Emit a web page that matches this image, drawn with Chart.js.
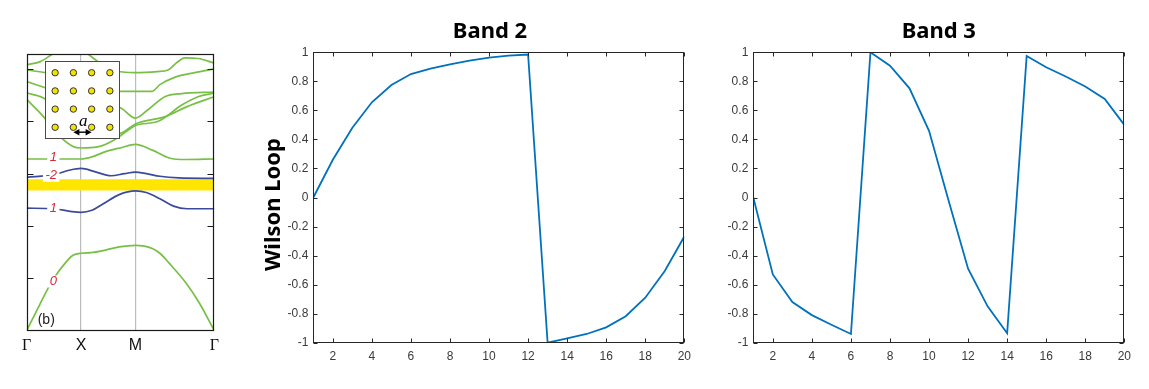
<!DOCTYPE html>
<html>
<head>
<meta charset="utf-8">
<script src="https://cdn.jsdelivr.net/npm/chart.js@4.4.0/dist/chart.umd.min.js"></script>
<style>
  html, body { margin: 0; padding: 0; background: #fff; }
  body { width: 1149px; height: 389px; position: relative; overflow: hidden; }
  .box { position: absolute; top: 0; height: 389px; }
  #bandBox { left: 0; width: 240px; }
  #wilson2Box { left: 250px; width: 480px; }
  #wilson3Box { left: 700px; width: 449px; }
  #insetBox { position: absolute; left: 45px; top: 61px; width: 75px; height: 78px;
              background: #fff; border: 1px solid #4a4a4a; box-sizing: border-box; }
</style>
</head>
<body>
<div class="box" id="bandBox"><canvas id="bandChart"></canvas></div>
<div id="insetBox"><canvas id="insetChart"></canvas></div>
<div class="box" id="wilson2Box"><canvas id="wilson2Chart"></canvas></div>
<div class="box" id="wilson3Box"><canvas id="wilson3Chart"></canvas></div>
<script>
// ---------- Wilson loop panels ----------
const kIndex = [1, 2, 3, 4, 5, 6, 7, 8, 9, 10, 11, 12, 13, 14, 15, 16, 17, 18, 19, 20];
const wilsonBand2 = [0, 0.26, 0.48, 0.656, 0.775, 0.85, 0.888, 0.917, 0.943, 0.963,
                     0.977, 0.985, -1, -0.97, -0.94, -0.894, -0.818, -0.69, -0.506, -0.269];
const wilsonBand3 = [0, -0.53, -0.72, -0.81, -0.876, -0.94, 1, 0.908, 0.752, 0.459,
                     -0.02, -0.49, -0.75, -0.935, 0.975, 0.897, 0.833, 0.764, 0.679, 0.5];
const wilsonXTicks = [2, 4, 6, 8, 10, 12, 14, 16, 18, 20];
const wilsonYTicks = [-1, -0.8, -0.6, -0.4, -0.2, 0, 0.2, 0.4, 0.6, 0.8, 1];

// ---------- band structure panel ----------
const kTicks = [0, 1, 2, 3.45];
const kLabels = ['Γ', 'X', 'M', 'Γ'];
const freqTicks = [1, 2, 3, 4, 5];
const bandGap = [2.68, 2.895];

const band0 = [[0, 0], [0.24, 0.5], [0.48, 0.97], [0.73, 1.32], [0.85, 1.44], [1, 1.48], [1.18, 1.49],
               [1.45, 1.54], [1.7, 1.6], [2, 1.63], [2.31, 1.57], [2.46, 1.47], [2.62, 1.29],
               [2.93, 0.91], [3.18, 0.52], [3.45, 0]];
const band1 = [[0, 2.34], [0.5, 2.33], [0.8, 2.28], [1, 2.26], [1.2, 2.3], [1.4, 2.42], [1.7, 2.6],
               [2, 2.67], [2.2, 2.64], [2.45, 2.52], [2.7, 2.38], [2.95, 2.33], [3.45, 2.33]];
const band2 = [[0, 2.93], [0.5, 2.98], [0.8, 3.07], [1, 3.1], [1.25, 3.04], [1.55, 2.96], [1.8, 3.0],
               [2, 3.03], [2.2, 3.0], [2.45, 2.95], [2.8, 2.92], [3.45, 2.91]];
const band3 = [[0, 3.28], [0.5, 3.28], [1, 3.28], [1.2, 3.32], [1.45, 3.42], [1.75, 3.5], [2, 3.56],
               [2.31, 3.45], [2.62, 3.3], [2.93, 3.27], [3.45, 3.28]];
const band4 = [[0, 4.42], [0.3, 4.1], [0.6, 3.72], [0.85, 3.52], [1, 3.49], [1.3, 3.51], [1.6, 3.64],
               [1.85, 3.82], [2, 3.92], [2.42, 4.0], [2.85, 4.31], [3.15, 4.47], [3.45, 4.54]];
const band5 = [[0, 4.54], [0.3, 4.45], [0.6, 4.22], [0.9, 3.98], [1.2, 3.82], [1.5, 3.72], [1.75, 3.78],
               [2, 3.95], [2.55, 4.09], [2.95, 4.28], [3.45, 4.47]];
const band6 = [[0, 4.76], [0.4, 4.62], [0.8, 4.47], [1.2, 4.38], [1.5, 4.33], [1.74, 4.25], [2, 4.06],
               [2.23, 4.22], [2.54, 4.47], [2.85, 4.53], [3.45, 4.56]];
const band7 = [[0, 4.98], [0.5, 4.9], [1, 4.75], [1.5, 4.62], [1.74, 4.57], [2, 4.57], [2.3, 4.57],
               [2.45, 4.7], [2.72, 4.84], [3.09, 4.93], [3.45, 5.0]];
const band8 = [[0, 5.08], [0.25, 5.14], [0.5, 5.3], [0.8, 5.45], [1.1, 5.3], [1.3, 5.15], [1.6, 4.97],
               [2, 4.93], [2.4, 4.95], [2.6, 4.98], [2.76, 5.12], [2.91, 5.21], [3.15, 5.2], [3.45, 5.11]];
const bands = [band0, band1, band2, band3, band4, band5, band6, band7, band8];

// Chern numbers written next to the lowest bands
const chernText = ['0', '1', '-2', '1'];
const chernK = [0.49, 0.49, 0.45, 0.49];
const chernF = [0.94, 2.33, 2.96, 3.31];

// inset lattice
const latticeCols = [1, 2, 3, 4];
const latticeRows = [1, 2, 3, 4];

// ---------- styles ----------
const GREEN = '#78bf46';
const BLUE = '#3b4a9a';
const bandStroke = [GREEN, BLUE, BLUE, GREEN, GREEN, GREEN, GREEN, GREEN, GREEN];
const MATLAB_BLUE = '#0072BD';
const AXIS_GREY = '#3a3a3a';
const TITLE_FONT = { family: '"Noto Sans", sans-serif', weight: 'bold', size: 22 };

Chart.defaults.font.family = '"Liberation Sans", Arial, sans-serif';

// box around the plot area plus inward tick marks
const framePlugin = {
    id: 'frame',
    afterDatasetsDraw(chart, args, o) {
        const { ctx, chartArea: a } = chart;
        const L = Math.round(a.left) + 0.5, R = Math.round(a.right) - 0.5;
        const T = Math.round(a.top) + 0.5, B = Math.round(a.bottom) - 0.5;
        const len = o.tickLen;
        ctx.save();
        ctx.strokeStyle = o.color;
        ctx.lineWidth = o.width;
        ctx.strokeRect(L, T, R - L, B - T);
        ctx.beginPath();
        if (o.xTicks) {
            const xs = chart.scales.x;
            xs.ticks.forEach(t => {
                const p = Math.round(xs.getPixelForValue(t.value)) + 0.5;
                ctx.moveTo(p, B); ctx.lineTo(p, B - len);
                ctx.moveTo(p, T); ctx.lineTo(p, T + len);
            });
        }
        if (o.yTicks) {
            const ys = chart.scales.y;
            ys.ticks.forEach(t => {
                const p = Math.round(ys.getPixelForValue(t.value)) + 0.5;
                ctx.moveTo(L, p); ctx.lineTo(L + len, p);
                ctx.moveTo(R, p); ctx.lineTo(R - len, p);
            });
        }
        ctx.stroke();
        ctx.restore();
    }
};

// rotated y label, placed a little below the axis middle like the original
const yLabelPlugin = {
    id: 'yLabel',
    afterDraw(chart, args, o) {
        if (!o.text) return;
        const { ctx, chartArea: a } = chart;
        ctx.save();
        ctx.translate(a.left - o.offsetX, (a.top + a.bottom) / 2 + o.offsetY);
        ctx.rotate(-Math.PI / 2);
        ctx.font = `bold ${TITLE_FONT.size}px ${TITLE_FONT.family}`;
        ctx.fillStyle = '#000';
        ctx.textAlign = 'center';
        ctx.textBaseline = 'middle';
        ctx.fillText(o.text, 0, 0);
        ctx.restore();
    }
};

// red Chern labels and the panel tag
const bandNotes = {
    id: 'bandNotes',
    afterDatasetsDraw(chart) {
        const { ctx, chartArea: a, scales: { x, y } } = chart;
        ctx.save();
        ctx.font = 'italic 13px "Liberation Sans"';
        ctx.textAlign = 'center';
        ctx.textBaseline = 'middle';
        chernText.forEach((t, i) => {
            const px = x.getPixelForValue(chernK[i]);
            const py = y.getPixelForValue(chernF[i]);
            const w = ctx.measureText(t).width + 5;
            ctx.fillStyle = '#fff';
            ctx.fillRect(px - w / 2, py - 6, w, 12);
            ctx.fillStyle = '#d42a3c';
            ctx.fillText(t, px, py);
        });
        ctx.font = '14px "Liberation Sans"';
        ctx.fillStyle = '#222';
        ctx.textAlign = 'left';
        ctx.fillText('(b)', a.left + 11, a.bottom - 11);
        ctx.restore();
    }
};

// arrow and "a" in the lattice inset
const insetNotes = {
    id: 'insetNotes',
    afterDatasetsDraw(chart) {
        const { ctx, scales: { x, y } } = chart;
        const x1 = x.getPixelForValue(latticeCols[1]);
        const x2 = x.getPixelForValue(latticeCols[2]);
        const py = y.getPixelForValue(0.73);
        ctx.save();
        ctx.strokeStyle = '#000';
        ctx.fillStyle = '#000';
        ctx.lineWidth = 1.4;
        ctx.beginPath();
        ctx.moveTo(x1 + 4, py); ctx.lineTo(x2 - 4, py);
        ctx.stroke();
        ctx.beginPath();
        ctx.moveTo(x1, py); ctx.lineTo(x1 + 6, py - 3.2); ctx.lineTo(x1 + 6, py + 3.2); ctx.closePath();
        ctx.moveTo(x2, py); ctx.lineTo(x2 - 6, py - 3.2); ctx.lineTo(x2 - 6, py + 3.2); ctx.closePath();
        ctx.fill();
        ctx.font = 'italic 17px "Liberation Serif"';
        ctx.textAlign = 'center';
        ctx.textBaseline = 'middle';
        ctx.fillText('a', x.getPixelForValue(2.54), y.getPixelForValue(1.31));
        ctx.restore();
    }
};

// ----- band structure -----
const bandDatasets = bands.map((b, i) => ({
    data: b.map(([k, f]) => ({ x: k, y: f })),
    borderColor: bandStroke[i],
    borderWidth: 1.7,
    pointRadius: 0,
    cubicInterpolationMode: 'monotone',
    fill: false,
    order: 0
}));
bandDatasets.push({
    data: [{ x: kTicks[0], y: bandGap[1] }, { x: kTicks[kTicks.length - 1], y: bandGap[1] }],
    borderWidth: 0,
    pointRadius: 0,
    fill: { value: bandGap[0] },
    backgroundColor: '#ffe600',
    order: 5
});

new Chart(document.getElementById('bandChart'), {
    type: 'line',
    data: { datasets: bandDatasets },
    options: {
        animation: false,
        responsive: true,
        maintainAspectRatio: false,
        events: [],
        layout: { autoPadding: false, padding: { top: 54.3, right: 25.7, left: 0, bottom: 0 } },
        plugins: {
            legend: { display: false },
            tooltip: { enabled: false },
            frame: { color: '#1a1a1a', width: 1.2, tickLen: 6, xTicks: false, yTicks: true }
        },
        scales: {
            x: {
                type: 'linear',
                min: kTicks[0],
                max: kTicks[kTicks.length - 1],
                afterBuildTicks: s => { s.ticks = kTicks.map(v => ({ value: v })); },
                afterFit: s => { s.height = 58.3; },
                border: { display: false },
                grid: {
                    drawTicks: false,
                    lineWidth: 1.2,
                    color: c => (c.index === 1 || c.index === 2) ? '#bcbcbc' : 'rgba(0,0,0,0)'
                },
                ticks: {
                    autoSkip: false,
                    maxRotation: 0,
                    padding: 5,
                    color: '#111',
                    font: c => ({
                        family: kLabels[c.index] === 'Γ' ? '"Liberation Serif"' : '"Liberation Sans"',
                        size: 16
                    }),
                    callback: (v, i) => kLabels[i]
                }
            },
            y: {
                type: 'linear',
                min: 0,
                max: 5.28,
                afterBuildTicks: s => { s.ticks = freqTicks.map(v => ({ value: v })); },
                afterFit: s => { s.width = 26.7; },
                border: { display: false },
                grid: { display: false, drawTicks: false },
                ticks: { display: false }
            }
        }
    },
    plugins: [bandNotes, framePlugin]
});

// ----- lattice inset -----
const latticePoints = [];
latticeRows.forEach(r => latticeCols.forEach(c => latticePoints.push({ x: c, y: r })));

new Chart(document.getElementById('insetChart'), {
    type: 'scatter',
    data: {
        datasets: [{
            data: latticePoints,
            pointRadius: 3.2,
            pointBackgroundColor: '#f3e300',
            pointBorderColor: '#333',
            pointBorderWidth: 1,
            clip: false
        }]
    },
    options: {
        animation: false,
        responsive: true,
        maintainAspectRatio: false,
        events: [],
        layout: { autoPadding: false, padding: 0 },
        plugins: { legend: { display: false }, tooltip: { enabled: false } },
        scales: {
            x: { type: 'linear', min: 0.5, max: 4.5, display: false },
            y: { type: 'linear', min: 0.41, max: 4.59, display: false }
        }
    },
    plugins: [insetNotes]
});

// ----- Wilson loop charts -----
function wilsonChart(canvasId, title, values, cfg) {
    return new Chart(document.getElementById(canvasId), {
        type: 'line',
        data: {
            datasets: [{
                data: kIndex.map((k, i) => ({ x: k, y: values[i] })),
                borderColor: MATLAB_BLUE,
                borderWidth: 1.8,
                pointRadius: 0,
                tension: 0,
                fill: false
            }]
        },
        options: {
            animation: false,
            responsive: true,
            maintainAspectRatio: false,
            events: [],
            layout: { autoPadding: false, padding: { left: 0, right: cfg.rightPad, top: 0, bottom: 0 } },
            plugins: {
                legend: { display: false },
                tooltip: { enabled: false },
                title: {
                    display: true,
                    text: title,
                    fullSize: cfg.fullSizeTitle,
                    color: '#000',
                    font: TITLE_FONT,
                    padding: { top: 18.5, bottom: 7.4 }
                },
                frame: { color: '#262626', width: 1, tickLen: 4, xTicks: true, yTicks: true },
                yLabel: { text: cfg.yTitle, offsetX: 39.3, offsetY: 7 }
            },
            scales: {
                x: {
                    type: 'linear',
                    min: kIndex[0],
                    max: kIndex[kIndex.length - 1],
                    afterBuildTicks: s => { s.ticks = wilsonXTicks.map(v => ({ value: v })); },
                    afterFit: s => { s.height = 46.3; },
                    border: { display: false },
                    grid: { display: false, drawTicks: false },
                    ticks: { autoSkip: false, maxRotation: 0, padding: 7, color: AXIS_GREY, font: { size: 12 } }
                },
                y: {
                    type: 'linear',
                    min: -1,
                    max: 1,
                    afterBuildTicks: s => { s.ticks = wilsonYTicks.map(v => ({ value: v })); },
                    afterFit: s => { s.width = cfg.axisWidth; },
                    border: { display: false },
                    grid: { display: false, drawTicks: false },
                    ticks: { padding: 5, color: AXIS_GREY, font: { size: 12 }, callback: v => String(v) }
                },
                // empty right-hand strip; lets the full-width title sit where the original has it
                spacer: {
                    type: 'linear',
                    position: 'right',
                    display: cfg.rightStrip > 0,
                    afterFit: s => { s.width = cfg.rightStrip; },
                    border: { display: false },
                    grid: { display: false, drawTicks: false },
                    ticks: { display: false }
                }
            }
        },
        plugins: [framePlugin, yLabelPlugin]
    });
}

wilsonChart('wilson2Chart', 'Band 2', wilsonBand2,
    { axisWidth: 63.3, rightPad: 0, rightStrip: 45.7, fullSizeTitle: true, yTitle: 'Wilson Loop' });
wilsonChart('wilson3Chart', 'Band 3', wilsonBand3,
    { axisWidth: 53.3, rightPad: 24.7, rightStrip: 0, fullSizeTitle: false, yTitle: '' });
</script>
</body>
</html>
